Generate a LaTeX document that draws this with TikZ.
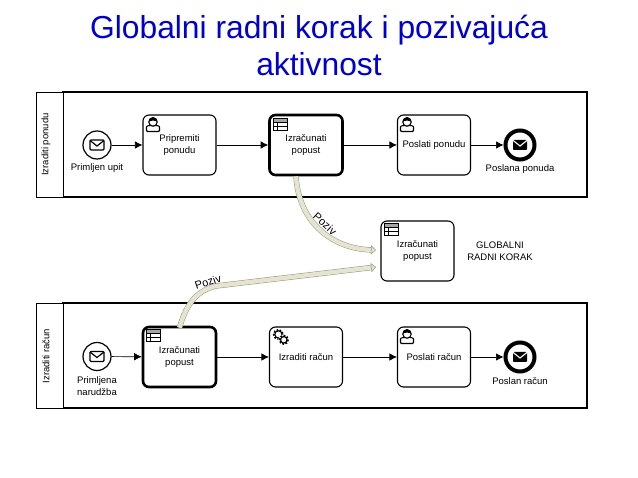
\documentclass[tikz,border=0pt]{standalone}
\usepackage{fontspec}
\setmainfont{Liberation Sans}
\usetikzlibrary{arrows.meta}
\definecolor{titleblue}{RGB}{0,0,204}
\definecolor{callfill}{RGB}{228,228,208}
\definecolor{calledge}{RGB}{150,150,130}
\tikzset{
  taskbox/.style={draw,rounded corners=6pt,line width=1.1pt,minimum width=73pt,minimum height=60pt,inner sep=0pt,align=center,font=\fontsize{9.5}{11.5}\selectfont},
  callbox/.style={taskbox,line width=2.6pt},
  lanebox/.style={draw,line width=2pt,minimum width=524pt,minimum height=105pt,inner sep=0pt},
  lanehead/.style={draw,line width=.6pt,fill=white,minimum width=27pt,minimum height=105pt,inner sep=0pt},
  startev/.style={draw,circle,line width=1.2pt,minimum size=28pt,inner sep=0pt},
  endev/.style={draw,circle,line width=4pt,minimum size=29pt,inner sep=0pt},
  lbl/.style={inner sep=0pt,align=center,font=\fontsize{9.5}{11.5}\selectfont},
  pozivlbl/.style={inner sep=0pt,font=\fontsize{11}{13}\selectfont},
  seq/.style={line width=.7pt,-{Latex[length=7.5pt,width=7.5pt]}},
  calling/.style={draw=calledge,double=callfill,double distance=4.4pt,line width=.5pt,-{Triangle[length=5pt,width=9pt,fill=callfill]}},
  pics/usericon/.style={code={
    \draw[line width=1.1pt,fill=white,rounded corners=1pt] (-6.5,7.5) -- (-6.5,4) .. controls (-6.5,1.5) and (-3,1.5) .. (0,1.5) .. controls (3,1.5) and (6.5,1.5) .. (6.5,4) -- (6.5,7.5) -- cycle;
    \draw[line width=1.1pt,fill=white] (0,-2) circle (4.2);
    \fill (-4.2,-2.2) .. controls (-4.4,-8.4) and (4.4,-8.4) .. (4.2,-2.2) .. controls (2,-3.8) and (-2,-3.8) .. (-4.2,-2.2);
  }},
  pics/tableicon/.style={code={
    \fill[gray!70] (-7,-6) rectangle (7,-2);
    \draw[line width=1pt] (-7,-6) rectangle (7,6) (-7,-2) -- (7,-2) (-7,2) -- (7,2) (-2.5,-2) -- (-2.5,6);
  }},
  pics/gearicon/.style={code={
    \draw[line width=1.8pt,dash pattern=on 1.7pt off 1.5pt] (-2.6,-2.6) circle (4.6);
    \draw[line width=1.1pt] (-2.6,-2.6) circle (3.6);
    \fill[white] (2.8,2.8) circle (5.6);
    \draw[line width=1.8pt,dash pattern=on 1.7pt off 1.5pt] (2.8,2.8) circle (4.2);
    \draw[line width=1.1pt] (2.8,2.8) circle (3.2);
  }},
  pics/mailicon/.style={code={
    \draw[line width=1.2pt,rounded corners=1pt] (-7,-5) rectangle (7,5);
    \draw[line width=1.2pt] (-7,-4.5) -- (0,1) -- (7,-4.5);
  }},
  pics/mailfull/.style={code={
    \fill[rounded corners=.8pt] (-7,-5) rectangle (7,5);
    \draw[white,line width=1.1pt] (-7.5,-5) -- (0,1) -- (7.5,-5);
  }},
}
\begin{document}
\begin{tikzpicture}[x=1pt,y=-1pt]
    \useasboundingbox (0,0) rectangle (638,478);
    % title
    \node[inner sep=0pt,align=center,text=titleblue,font=\fontsize{31.8}{37}\selectfont] (title) at (319,45.5) {Globalni radni korak i pozivajuća\\aktivnost};
    % upper lane
    \node[lanebox] (laneA) at (325,144.5) {};
    \node[lanehead] (headA) at (49.5,144.5) {};
    \node[lbl,rotate=90] (nameA) at (46,144.5) {Izraditi ponudu};
    \node[startev] (upit) at (97,145) {};
    \pic at (upit) {mailicon};
    \node[lbl] (upitText) at (97,168) {Primljen upit};
    \node[taskbox] (pripremiti) at (179.5,145) {Pripremiti\\ponudu};
    \pic at (153,124) {usericon};
    \node[callbox] (popustA) at (306,145) {Izračunati\\popust};
    \pic at (280,124.5) {tableicon};
    \node[taskbox] (ponuda) at (434,145) {Poslati ponudu};
    \pic at (407,124) {usericon};
    \node[endev] (poslana) at (520,145) {};
    \pic at (poslana) {mailfull};
    \node[lbl] (poslanaText) at (520,169) {Poslana ponuda};
    \draw[seq] (upit) -- (pripremiti);
    \draw[seq] (pripremiti) -- (popustA);
    \draw[seq] (popustA) -- (ponuda);
    \draw[seq] (ponuda) -- (poslana);
    % lower lane
    \node[lanebox] (laneB) at (325,356) {};
    \node[lanehead] (headB) at (49.5,356) {};
    \node[lbl,rotate=90] (nameB) at (46,356) {Izraditi račun};
    \node[startev] (narudzba) at (97,356.5) {};
    \pic at (narudzba) {mailicon};
    \node[lbl] (narudzbaText) at (97,386) {Primljena\\narudžba};
    \node[callbox] (popustB) at (179.5,357) {Izračunati\\popust};
    \pic at (153,336) {tableicon};
    \node[taskbox] (izrada) at (306,357) {Izraditi račun};
    \pic at (281,337) {gearicon};
    \node[taskbox] (racun) at (434,357) {Poslati račun};
    \pic at (407,336) {usericon};
    \node[endev] (poslan) at (520,357) {};
    \pic at (poslan) {mailfull};
    \node[lbl] (poslanText) at (520,381) {Poslan račun};
    \draw[seq] (narudzba) -- (popustB);
    \draw[seq] (popustB) -- (izrada);
    \draw[seq] (izrada) -- (racun);
    \draw[seq] (racun) -- (poslan);
    % global task
    \node[taskbox] (globalTask) at (417.5,251) {Izračunati\\popust};
    \pic at (391,230) {tableicon};
    \node[lbl] (globalText) at (500,251) {GLOBALNI\\RADNI KORAK};
    % calls
    \coordinate (inA) at (376,250);
    \coordinate (inB) at (376,267);
    \draw[calling] ([xshift=-10pt]popustA.south) .. controls (299,225) and (335,249) .. (inA);
    \draw[calling] ([yshift=-2pt]popustB.north) .. controls (187,301) and (199,290) .. (216,286) -- (inB);
    \node[pozivlbl,rotate=-42] (pozivA) at (325,224) {Poziv};
    \node[pozivlbl,rotate=18] (pozivB) at (208,282) {Poziv};
\end{tikzpicture}
\end{document}
